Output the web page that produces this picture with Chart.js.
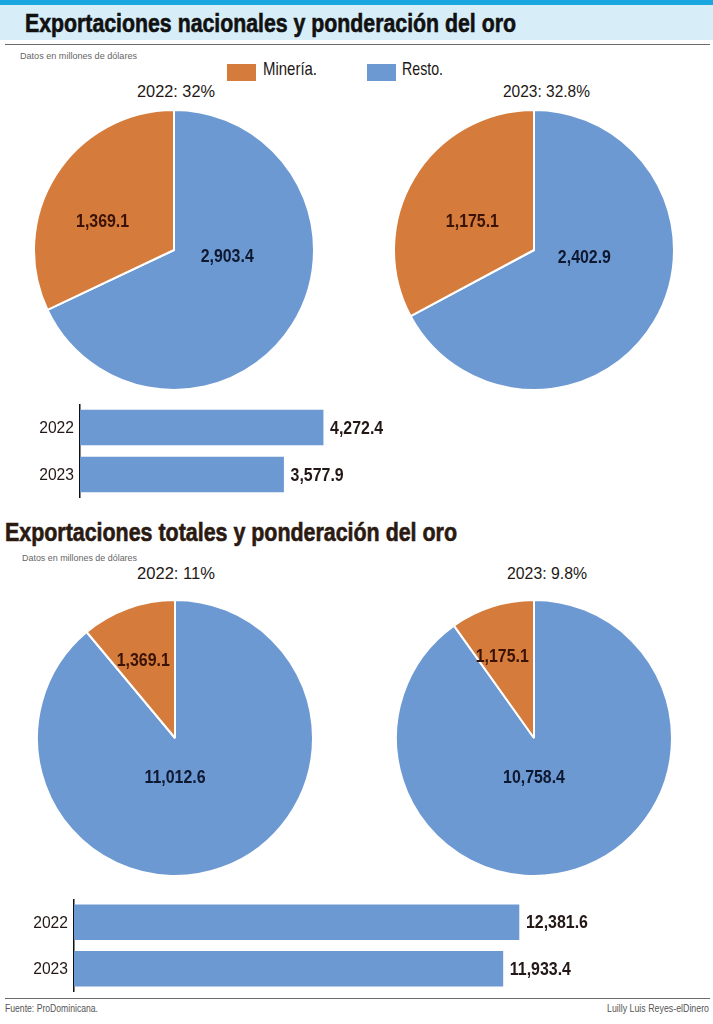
<!DOCTYPE html>
<html lang="es">
<head>
<meta charset="utf-8">
<script src="https://cdn.jsdelivr.net/npm/chart.js@4/dist/chart.umd.min.js"></script>
<style>
    html, body { margin: 0; padding: 0; background: #fff; }
    body { width: 713px; height: 1024px; position: relative; overflow: hidden;
           font-family: "Liberation Sans", Arial, sans-serif; color: #231815; }
    .abs { position: absolute; line-height: 1; white-space: nowrap; }
    .fit { transform-origin: 0 0; }
    .top-strip { left: 0; top: 0; width: 713px; height: 5px; background: #1aa7e0; }
    .title-band { left: 0; top: 5px; width: 713px; height: 35px; background: #d7eef9; }
    .title { font-weight: bold; font-size: 25px; -webkit-text-stroke: 0.6px currentColor; }
    .rule { height: 0; border-top: 1.5px solid #6b6b6b; }
    .note { font-size: 9px; color: #666; }
    .pie-title { font-size: 17px; color: #231815; }
    .legend-box { width: 29px; height: 17px; }
    .legend-txt { font-size: 19px; }
    .foot { font-size: 11px; color: #555; }
</style>
</head>
<body>
<div class="abs top-strip"></div>
<div class="abs title-band"></div>
<div class="abs title fit" data-w="491" style="left:25px; top:11px; color:#111;">Exportaciones nacionales y ponderación del oro</div>
<div class="abs rule" style="left:5px; top:44px; width:705px;"></div>
<div class="abs note fit" data-w="117" style="left:20px; top:52px;">Datos en millones de dólares</div>
<div id="legend"></div>

<div class="abs title fit" data-w="452" style="left:5px; top:520px; color:#2a1a12;">Exportaciones totales y ponderación del oro</div>
<div class="abs note fit" data-w="115" style="left:22px; top:554px;">Datos en millones de dólares</div>

<div id="pie-titles"></div>

<canvas id="pie-nac-2022" class="abs" width="282" height="282" style="left:33px; top:109px;"></canvas>
<canvas id="pie-nac-2023" class="abs" width="282" height="282" style="left:393px; top:109px;"></canvas>
<canvas id="pie-tot-2022" class="abs" width="278" height="278" style="left:36px; top:599px;"></canvas>
<canvas id="pie-tot-2023" class="abs" width="278" height="278" style="left:395px; top:599px;"></canvas>

<canvas id="bar-nac" class="abs" width="713" height="94" style="left:0; top:404px;"></canvas>
<canvas id="bar-tot" class="abs" width="713" height="93" style="left:0; top:899px;"></canvas>

<div class="abs rule" style="left:5px; top:998px; width:705px; border-top-width:1px;"></div>
<div class="abs foot fit" data-w="93" style="left:5px; top:1003px;">Fuente: ProDominicana.</div>
<div class="abs foot fit" data-w="102" style="left:607px; top:1003px;">Luilly Luis Reyes-elDinero</div>

<script>
// ── Data ────────────────────────────────────────────────────────────────
const SLICE_LABELS = ["Minería.", "Resto."];
const YEARS        = ["2022", "2023"];

// Exportaciones nacionales [Minería, Resto]
const NAC_2022   = [1369.1, 2903.4];
const NAC_2023   = [1175.1, 2402.9];
const NAC_SHARE  = ["32%", "32.8%"];
const NAC_TOTALS = [4272.4, 3577.9];

// Exportaciones totales [Minería, Resto]
const TOT_2022   = [1369.1, 11012.6];
const TOT_2023   = [1175.1, 10758.4];
const TOT_SHARE  = ["11%", "9.8%"];
const TOT_TOTALS = [12381.6, 11933.4];

// ── Style ───────────────────────────────────────────────────────────────
const FONT      = '"Liberation Sans", Arial, sans-serif';
const C_MINERIA = "#d57c3c";
const C_RESTO   = "#6d99d2";
const SLICE_COLORS = [C_MINERIA, C_RESTO];
const SLICE_TEXT   = ["#3b1306", "#0e1830"];

const fmt = v => Number(v).toLocaleString("en-US", { minimumFractionDigits: 1, maximumFractionDigits: 1 });

// condensed look: squeeze text horizontally
function narrowText(ctx, text, x, y, align, sx) {
    ctx.save();
    ctx.translate(x, y);
    ctx.scale(sx, 1);
    ctx.textAlign = align;
    ctx.textBaseline = "middle";
    ctx.fillText(text, 0, 0);
    ctx.restore();
}

// legend + pie titles
document.getElementById("legend").innerHTML = `
    <div class="abs legend-box" style="left:227px; top:64px; background:${C_MINERIA}"></div>
    <div class="abs legend-txt fit" data-w="54" style="left:263px; top:59px;">${SLICE_LABELS[0]}</div>
    <div class="abs legend-box" style="left:367px; top:64px; background:${C_RESTO}"></div>
    <div class="abs legend-txt fit" data-w="41" style="left:402px; top:59px;">${SLICE_LABELS[1]}</div>`;

document.getElementById("pie-titles").innerHTML = `
    <div class="abs pie-title fit" data-w="78" data-cx="176" style="top:83px;">${YEARS[0]}: ${NAC_SHARE[0]}</div>
    <div class="abs pie-title fit" data-w="87" data-cx="546" style="top:83px;">${YEARS[1]}: ${NAC_SHARE[1]}</div>
    <div class="abs pie-title fit" data-w="78" data-cx="176" style="top:565px;">${YEARS[0]}: ${TOT_SHARE[0]}</div>
    <div class="abs pie-title fit" data-w="80" data-cx="547" style="top:565px;">${YEARS[1]}: ${TOT_SHARE[1]}</div>`;

// squeeze HTML text to the widths measured on the original
document.querySelectorAll(".fit").forEach(el => {
    const w = el.getBoundingClientRect().width;
    const target = +el.dataset.w;
    if (el.dataset.cx) el.style.left = (el.dataset.cx - target / 2) + "px";
    el.style.transform = `scaleX(${target / w})`;
});

// ── Pie value labels (offsets in radius units, [Minería, Resto]) ────────
const pieLabels = {
    id: "pieLabels",
    afterDatasetsDraw(chart, args, opts) {
        const ctx  = chart.ctx;
        const meta = chart.getDatasetMeta(0);
        const vals = chart.data.datasets[0].data;
        // dataset order is [Resto, Minería] so Minería sits left of 12 o'clock
        meta.data.forEach((arc, i) => {
            const slice = i === 0 ? 1 : 0;
            const off = opts.offsets[slice];
            ctx.save();
            ctx.font = `bold 18.5px ${FONT}`;
            ctx.fillStyle = SLICE_TEXT[slice];
            narrowText(ctx, fmt(vals[i]), arc.x + off[0] * arc.outerRadius,
                       arc.y + off[1] * arc.outerRadius, "center", 0.86);
            ctx.restore();
        });
    },
};

function drawPie(id, values, offsets) {
    new Chart(document.getElementById(id), {
        type: "pie",
        data: {
            labels: [SLICE_LABELS[1], SLICE_LABELS[0]],
            datasets: [{
                data: [values[1], values[0]],
                backgroundColor: [SLICE_COLORS[1], SLICE_COLORS[0]],
                borderColor: "#fff",
                borderWidth: 2,
            }],
        },
        options: {
            responsive: false, animation: false,
            layout: { padding: 0 },
            plugins: {
                legend: { display: false },
                tooltip: { enabled: false },
                pieLabels: { offsets },
            },
        },
        plugins: [pieLabels],
    });
}

drawPie("pie-nac-2022", NAC_2022, [[-0.51, -0.20], [0.38, 0.05]]);
drawPie("pie-nac-2023", NAC_2023, [[-0.44, -0.20], [0.36, 0.06]]);
drawPie("pie-tot-2022", TOT_2022, [[-0.23, -0.56], [0.00, 0.29]]);
drawPie("pie-tot-2023", TOT_2023, [[-0.23, -0.59], [0.00, 0.29]]);

// ── Horizontal total bars ───────────────────────────────────────────────
const barText = {
    id: "barText",
    afterDatasetsDraw(chart) {
        const ctx  = chart.ctx;
        const meta = chart.getDatasetMeta(0);
        const vals = chart.data.datasets[0].data;
        const ys   = chart.scales.y;
        meta.data.forEach((bar, i) => {
            ctx.save();
            ctx.fillStyle = "#231815";
            ctx.font = `bold 18.5px ${FONT}`;
            narrowText(ctx, fmt(vals[i]), bar.x + 7, bar.y + 1, "left", 0.86);
            ctx.font = `17px ${FONT}`;
            narrowText(ctx, chart.data.labels[i], ys.right - 6, ys.getPixelForTick(i) + 1, "right", 0.92);
            ctx.restore();
        });
    },
};

function drawBars(id, values, axisX, xMax) {
    new Chart(document.getElementById(id), {
        type: "bar",
        data: {
            labels: YEARS,
            datasets: [{ data: values, backgroundColor: C_RESTO, barThickness: 35, categoryPercentage: 1 }],
        },
        options: {
            responsive: false, animation: false, indexAxis: "y",
            layout: { padding: { left: 0, right: 64, top: 0, bottom: 0 } },
            plugins: { legend: { display: false }, tooltip: { enabled: false } },
            scales: {
                x: { display: false, min: 0, max: xMax },
                y: {
                    afterFit: s => { s.width = axisX; },
                    grid: { display: false },
                    border: { display: true, color: "#111", width: 1.5 },
                    ticks: { display: false },
                },
            },
        },
        plugins: [barText],
    });
}

drawBars("bar-nac", NAC_TOTALS, 80, 10000);
drawBars("bar-tot", TOT_TOTALS, 74, 16000);
</script>
</body>
</html>
